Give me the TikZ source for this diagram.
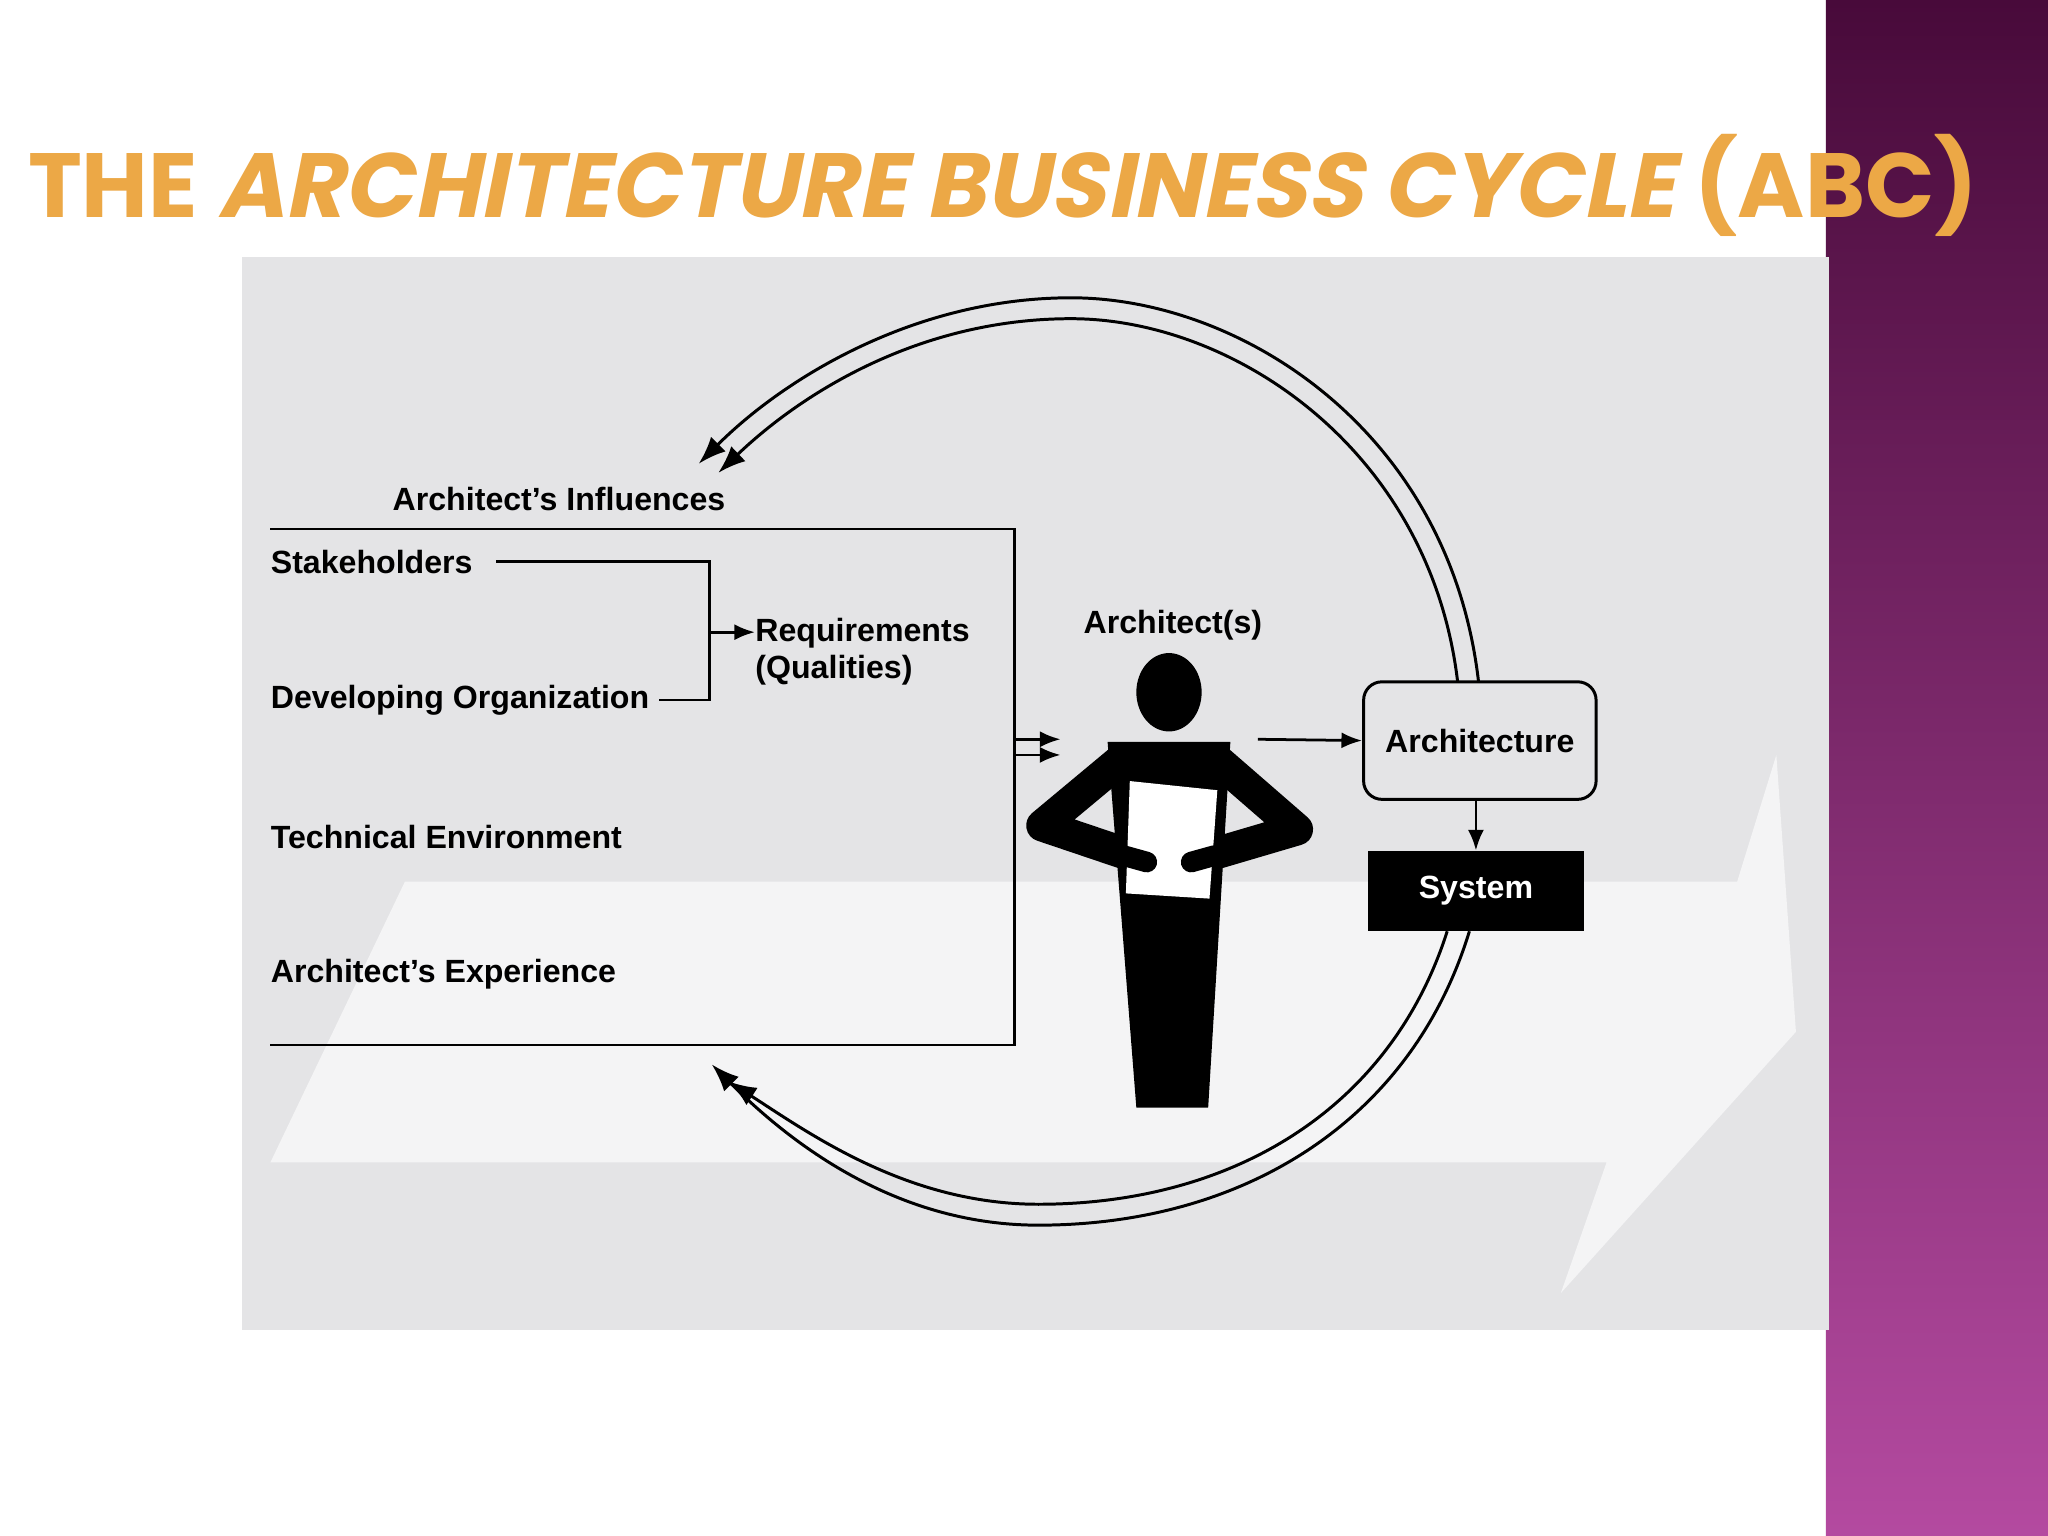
\documentclass[tikz,border=0pt]{standalone}
\usepackage{fontspec}
\setmainfont{Liberation Sans}
\newfontfamily\titlefont{Poppins}
\newfontfamily\titleit[FakeSlant=0.2]{Poppins}
\usetikzlibrary{arrows.meta}
\definecolor{panel}{RGB}{228,228,230}
\definecolor{ttl}{RGB}{236,168,70}
\begin{document}
\begin{tikzpicture}[x=0.02cm,y=-0.02cm,
  lbl/.style={font=\bfseries\fontsize{14}{16}\selectfont,inner sep=0pt},
  conn/.style={line width=1.2pt},
  arr/.style={line width=1.2pt,-{Latex[length=9pt,width=7pt]}},
  ring/.style={line width=1.3pt,-{Latex[length=12pt,width=9pt]}}]
\useasboundingbox (0,0) rectangle (1568,1176);
\fill[white] (0,0) rectangle (1568,1176);
\shade[top color={rgb,255:red,72;green,10;blue,58},bottom color={rgb,255:red,180;green,74;blue,160}] (1398,0) rectangle (1568,1176);
\node[text=ttl,inner sep=0pt] (title) at (768,142) {\resizebox{29.86cm}{!}{\titlefont\bfseries THE \titleit\bfseries ARCHITECTURE BUSINESS CYCLE \titlefont\bfseries (ABC)}};
\fill[panel] (185,197) rectangle (1400,1018);
\fill[white!60!panel] (310,675) -- (1330,675) -- (1360,578) -- (1375,790) -- (1195,990) -- (1230,890) -- (207,890) -- cycle;
% influences box
\draw[conn] (207,405) -- (777,405) -- (777,800) -- (207,800);
\node[lbl] (inf) at (428,382) {Architect's Influences};
\node[lbl,anchor=west] (stk) at (207,430) {Stakeholders};
\node[lbl,anchor=west] (dev) at (207,536) {Developing Organization};
\node[lbl,anchor=west] (tec) at (207,641) {Technical Environment};
\node[lbl,anchor=west] (exp) at (207,746) {Architect's Experience};
\node[lbl,anchor=west,align=left] (req) at (578,499) {Requirements\\(Qualities)};
\coordinate (b1) at (543,430); \coordinate (b2) at (543,536); \coordinate (bm) at (543,484);
\draw[conn] ([xshift=10]stk.east) -- (b1) -- (b2) -- ([xshift=4]dev.east);
\draw[arr] (bm) -- (req.west|-bm);
\coordinate (d1) at (777,566); \coordinate (d2) at (777,578);
\coordinate (e1) at (812,566); \coordinate (e2) at (812,578);
\draw[arr] (d1) -- (e1); \draw[arr] (d2) -- (e2);
% architect figure
\node[lbl] (archs) at (898,479) {Architect(s)};
\fill (895,530) ellipse (25 and 30);
\fill (848,568) -- (942,568) -- (925,848) -- (870,848) -- cycle;
\draw[line width=14pt,line join=round,line cap=round] (858,582) -- (798,632) -- (875,658);
\draw[line width=14pt,line join=round,line cap=round] (932,582) -- (993,635) -- (915,658);
\fill[white] (865,598) -- (932,605) -- (926,688) -- (862,684) -- cycle;
\draw[line width=9pt,line cap=round] (860,655) -- (878,660);
\draw[line width=9pt,line cap=round] (930,655) -- (912,660);
% architecture and system
\node[lbl,draw,line width=1.3pt,rounded corners=8pt,minimum width=178*0.02cm,minimum height=90*0.02cm] (arch) at (1133,567) {Architecture};
\node[lbl,fill=black,text=white,minimum width=166*0.02cm,minimum height=61*0.02cm] (sys) at (1130,682) {System};
\coordinate (fa) at (963,566);
\draw[arr] (fa) -- (arch.west);
\draw[arr] (arch.south-|sys.north) -- (sys.north);
% cycle arcs
\coordinate (t0) at (1132,522); \coordinate (t1) at (1116,522);
\coordinate (s0) at (1125,713); \coordinate (s1) at (1108,713);
\draw[ring] (t0) .. controls (1110,330) and (950,228) .. (820,228) .. controls (700,228) and (600,290) .. (535,355);
\draw[ring] (t1) .. controls (1095,345) and (945,244) .. (820,244) .. controls (705,244) and (615,300) .. (550,362);
\draw[ring] (s0) .. controls (1080,860) and (950,938) .. (795,938) .. controls (690,938) and (610,880) .. (545,815);
\draw[ring] (s1) .. controls (1065,848) and (945,922) .. (795,922) .. controls (695,922) and (620,868) .. (558,828);
\end{tikzpicture}
\end{document}
